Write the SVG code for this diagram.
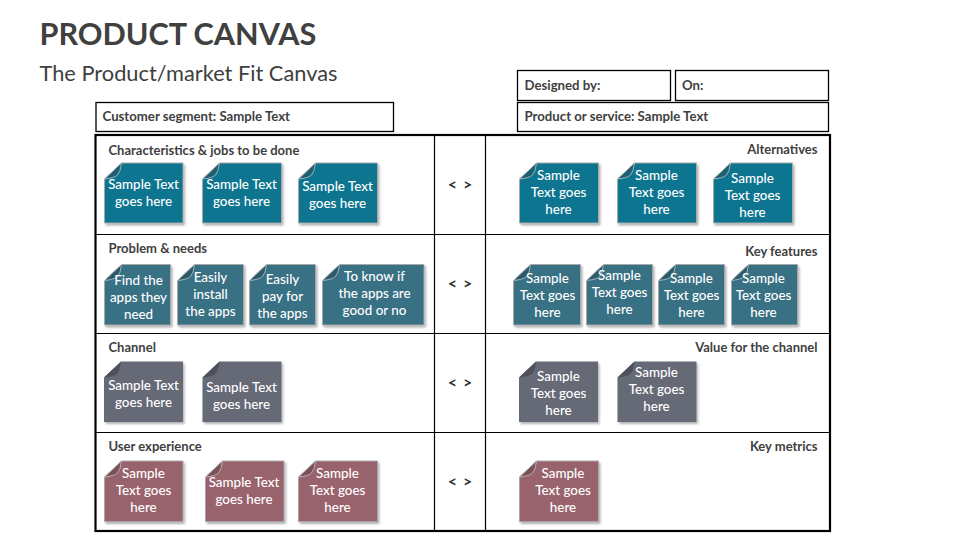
<svg xmlns="http://www.w3.org/2000/svg" width="960" height="540" viewBox="0 0 960 540">
<style>
text{font-family:"Lato","Open Sans","Liberation Sans",sans-serif}
.h1{font-size:30.6px;font-weight:700;fill:#404040}
.h2{font-size:21.8px;fill:#404040}
.lb{font-size:13px;font-weight:700;fill:#404040}
.hd{font-size:13.2px}
.r{text-anchor:end}
.t{font-size:13.4px;font-weight:500;fill:#fff;text-anchor:middle}
.box{fill:#fff;stroke:#000;stroke-width:1.3}
.ln{stroke:#000;stroke-width:1.2;fill:none}
.ol{stroke:#000;stroke-width:2.2;fill:none}
.n{filter:url(#s);stroke:#a8a8a8;stroke-width:1}
.a{fill:#08748f}.b{fill:#386f84}.c{fill:#666976;stroke:none}.d{fill:#99636d}
.f{stroke:#c4c4c4;stroke-width:.8}
.fa{fill:#1f5f72}.fb{fill:#2c5a6b}.fc{fill:#4e505b;stroke:none}.fd{fill:#7a5059}
.m{font-size:16px;font-weight:700;fill:#333;text-anchor:middle;word-spacing:2px}
</style>
<defs><filter id="s" x="-10%" y="-10%" width="125%" height="125%"><feDropShadow dx="1.5" dy="2" stdDeviation="1" flood-color="#000" flood-opacity=".3"/></filter></defs>
<rect width="960" height="540" fill="#fff"/>
<text class="h1" x="39.5" y="45">PRODUCT CANVAS</text>
<text class="h2" x="39.5" y="81">The Product/market Fit Canvas</text>
<g id="customer-segment"><rect class="box" x="96" y="102.5" width="297.5" height="29"/><text class="lb hd" x="102.5" y="121">Customer segment: Sample Text</text></g>
<g id="designed-by"><rect class="box" x="517.5" y="70.5" width="153" height="30"/><text class="lb hd" x="524.5" y="90">Designed by:</text></g>
<g id="on"><rect class="box" x="675.5" y="70.5" width="153" height="30"/><text class="lb hd" x="682" y="90">On:</text></g>
<g id="product-service"><rect class="box" x="517.5" y="102.5" width="311" height="29"/><text class="lb hd" x="524.5" y="121">Product or service: Sample Text</text></g>
<g id="grid">
<rect class="ol" x="95.5" y="135" width="734.5" height="396"/>
<path class="ln" d="M95 234.5H831M95 333.5H831M95 432.5H831M434.5 135V532M485.5 135V532"/>
</g>
<g id="labels">
<text class="lb" x="108.5" y="155">Characteristics &amp; jobs to be done</text>
<text class="lb" x="108.5" y="253">Problem &amp; needs</text>
<text class="lb" x="108.5" y="352">Channel</text>
<text class="lb" x="108.5" y="451">User experience</text>
<text class="lb r" x="817.5" y="154">Alternatives</text>
<text class="lb r" x="817.5" y="256">Key features</text>
<text class="lb r" x="817.5" y="352">Value for the channel</text>
<text class="lb r" x="817.5" y="451">Key metrics</text>
<text class="m" x="460" y="190">&lt; &gt;</text>
<text class="m" x="460" y="289">&lt; &gt;</text>
<text class="m" x="460" y="388">&lt; &gt;</text>
<text class="m" x="460" y="487">&lt; &gt;</text>
</g>
<g id="n1" transform="translate(104.5,163)"><path class="n a" d="M17 0H78.5V60H0V16Z"/><path class="f fa" d="M0 16L17 0Q16 9 13 12T0 16Z"/><text class="t" x="39" y="26">Sample Text</text><text class="t" x="39" y="43">goes here</text></g>
<g id="n2" transform="translate(202.5,163)"><path class="n a" d="M17 0H79V60H0V16Z"/><path class="f fa" d="M0 16L17 0Q16 9 13 12T0 16Z"/><text class="t" x="39" y="26">Sample Text</text><text class="t" x="39" y="43">goes here</text></g>
<g id="n3" transform="translate(298.5,163)"><path class="n a" d="M17 0H79V60H0V16Z"/><path class="f fa" d="M0 16L17 0Q16 9 13 12T0 16Z"/><text class="t" x="39" y="28">Sample Text</text><text class="t" x="39" y="45">goes here</text></g>
<g id="n4" transform="translate(519.5,163)"><path class="n a" d="M17 0H79V60H0V16Z"/><path class="f fa" d="M0 16L17 0Q16 9 13 12T0 16Z"/><text class="t" x="39" y="17">Sample</text><text class="t" x="39" y="34">Text goes</text><text class="t" x="39" y="51">here</text></g>
<g id="n5" transform="translate(617.5,163)"><path class="n a" d="M17 0H79V60H0V16Z"/><path class="f fa" d="M0 16L17 0Q16 9 13 12T0 16Z"/><text class="t" x="39" y="17">Sample</text><text class="t" x="39" y="34">Text goes</text><text class="t" x="39" y="51">here</text></g>
<g id="n6" transform="translate(713.5,163)"><path class="n a" d="M17 0H79V60H0V16Z"/><path class="f fa" d="M0 16L17 0Q16 9 13 12T0 16Z"/><text class="t" x="39" y="20">Sample</text><text class="t" x="39" y="37">Text goes</text><text class="t" x="39" y="54">here</text></g>
<g id="n7" transform="translate(104.5,264.5)"><path class="n b" d="M17 0H66V60.500H0V16Z"/><path class="f fb" d="M0 16L17 0Q16 9 13 12T0 16Z"/><text class="t" x="34" y="20">Find the</text><text class="t" x="34" y="37">apps they</text><text class="t" x="34" y="54">need</text></g>
<g id="n8" transform="translate(177.500,264.500)"><path class="n b" d="M17 0H66V60.500H0V16Z"/><path class="f fb" d="M0 16L17 0Q16 9 13 12T0 16Z"/><text class="t" x="33" y="17.500">Easily</text><text class="t" x="33" y="34">install</text><text class="t" x="33" y="51">the apps</text></g>
<g id="n9" transform="translate(249.500,264.500)"><path class="n b" d="M17 0H66V60.500H0V16Z"/><path class="f fb" d="M0 16L17 0Q16 9 13 12T0 16Z"/><text class="t" x="33" y="19.500">Easily</text><text class="t" x="33" y="36">pay for</text><text class="t" x="33" y="53">the apps</text></g>
<g id="n10" transform="translate(322.500,264.500)"><path class="n b" d="M17 0H101.500V60.500H0V16Z"/><path class="f fb" d="M0 16L17 0Q16 9 13 12T0 16Z"/><text class="t" x="52" y="16">To know if</text><text class="t" x="52" y="33">the apps are</text><text class="t" x="52" y="50">good or no</text></g>
<g id="n11" transform="translate(513.500,264.500)"><path class="n b" d="M17 0H67V60.500H0V16Z"/><path class="f fb" d="M0 16L17 0Q16 9 13 12T0 16Z"/><text class="t" x="34" y="18.500">Sample</text><text class="t" x="34" y="35.500">Text goes</text><text class="t" x="34" y="52.500">here</text></g>
<g id="n12" transform="translate(586.500,264.500)"><path class="n b" d="M17 0H66V60.500H0V16Z"/><path class="f fb" d="M0 16L17 0Q16 9 13 12T0 16Z"/><text class="t" x="33" y="15.500">Sample</text><text class="t" x="33" y="32.500">Text goes</text><text class="t" x="33" y="49.500">here</text></g>
<g id="n13" transform="translate(658.500,264.500)"><path class="n b" d="M17 0H66V60.500H0V16Z"/><path class="f fb" d="M0 16L17 0Q16 9 13 12T0 16Z"/><text class="t" x="33" y="18.500">Sample</text><text class="t" x="33" y="35.500">Text goes</text><text class="t" x="33" y="52.500">here</text></g>
<g id="n14" transform="translate(731.500,264.500)"><path class="n b" d="M17 0H66V60.500H0V16Z"/><path class="f fb" d="M0 16L17 0Q16 9 13 12T0 16Z"/><text class="t" x="32" y="18.500">Sample</text><text class="t" x="32" y="35.500">Text goes</text><text class="t" x="32" y="52.500">here</text></g>
<g id="n15" transform="translate(104,361.500)"><path class="n c" d="M17 0H79V60.500H0V16Z"/><path class="f fc" d="M0 16L17 0Q16 9 13 12T0 16Z"/><text class="t" x="39.500" y="28.500">Sample Text</text><text class="t" x="39.500" y="45.500">goes here</text></g>
<g id="n16" transform="translate(202.500,361.500)"><path class="n c" d="M17 0H79V60.500H0V16Z"/><path class="f fc" d="M0 16L17 0Q16 9 13 12T0 16Z"/><text class="t" x="39" y="30.500">Sample Text</text><text class="t" x="39" y="47.500">goes here</text></g>
<g id="n17" transform="translate(519,361.500)"><path class="n c" d="M17 0H79V60.500H0V16Z"/><path class="f fc" d="M0 16L17 0Q16 9 13 12T0 16Z"/><text class="t" x="39.500" y="19.500">Sample</text><text class="t" x="39.500" y="36.500">Text goes</text><text class="t" x="39.500" y="53.500">here</text></g>
<g id="n18" transform="translate(617.500,361.500)"><path class="n c" d="M17 0H79V60.500H0V16Z"/><path class="f fc" d="M0 16L17 0Q16 9 13 12T0 16Z"/><text class="t" x="39" y="15.500">Sample</text><text class="t" x="39" y="32.500">Text goes</text><text class="t" x="39" y="49.500">here</text></g>
<g id="n19" transform="translate(104.500,461)"><path class="n d" d="M17 0H78.500V60.500H0V16Z"/><path class="f fd" d="M0 16L17 0Q16 9 13 12T0 16Z"/><text class="t" x="39" y="17">Sample</text><text class="t" x="39" y="34">Text goes</text><text class="t" x="39" y="51">here</text></g>
<g id="n20" transform="translate(205.500,461)"><path class="n d" d="M17 0H78.500V60.500H0V16Z"/><path class="f fd" d="M0 16L17 0Q16 9 13 12T0 16Z"/><text class="t" x="38.500" y="26">Sample Text</text><text class="t" x="38.500" y="43">goes here</text></g>
<g id="n21" transform="translate(298.500,461)"><path class="n d" d="M17 0H79V60.500H0V16Z"/><path class="f fd" d="M0 16L17 0Q16 9 13 12T0 16Z"/><text class="t" x="39" y="17">Sample</text><text class="t" x="39" y="34">Text goes</text><text class="t" x="39" y="51">here</text></g>
<g id="n22" transform="translate(519.500,461)"><path class="n d" d="M17 0H79V60.500H0V16Z"/><path class="f fd" d="M0 16L17 0Q16 9 13 12T0 16Z"/><text class="t" x="43.500" y="17">Sample</text><text class="t" x="43.500" y="34">Text goes</text><text class="t" x="43.500" y="51">here</text></g>
</svg>
